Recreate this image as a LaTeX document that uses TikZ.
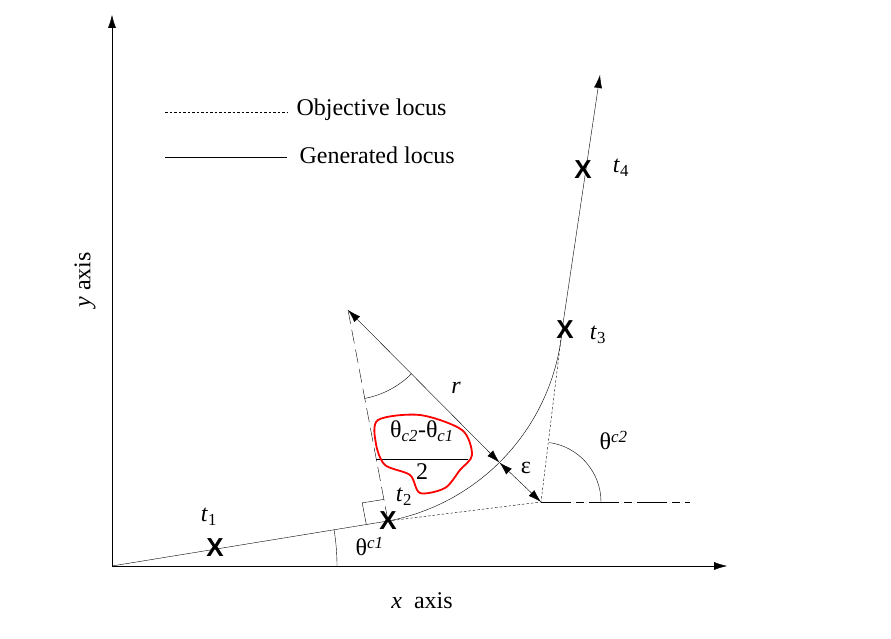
\documentclass[tikz,border=0pt]{standalone}
\usepackage{fontspec}
\setmainfont{Liberation Serif}
\newfontfamily\xfont{Liberation Sans}
\usetikzlibrary{arrows.meta,calc}
\begin{document}
\begin{tikzpicture}[x=1pt,y=1pt,
  tip/.style={-{Latex[length=13,width=8]}},
  dots/.style={dash pattern=on 2.5pt off 2pt},
  lbl/.style={font=\fontsize{24}{26}\selectfont},
  xm/.style={font=\xfont\bfseries\fontsize{26}{26}\selectfont, inner sep=0pt}]
\useasboundingbox (0,0) rectangle (891,639);
\coordinate (O) at (112,73);
\coordinate (xe) at (727,73);
\coordinate (ye) at (112,624);
\coordinate (t2) at (388,118);
\coordinate (P) at (541,137);
\coordinate (C) at (348,329);
\coordinate (t3) at ($(C)+(-5.3:215)$);
\coordinate (top) at (600,564);
\coordinate (E) at ($(C)+(-45.2:215)$);
% axes
\draw[tip] (O) -- (xe);
\draw[tip] (O) -- (ye);
% generated locus
\draw (O) -- (t2) arc[start angle=-79.3,end angle=-5.3,radius=215];
\draw[tip] (t3) -- (top);
% objective locus
\draw[dots] (t2) -- (P) -- (t3);
\draw[dash pattern=on 30pt off 5pt on 8pt off 5pt] (P) -- (690,137);
% radius lines
\draw[dash pattern=on 14pt off 6pt] (C) -- (t2);
\draw[{Latex[length=13,width=8]}-{Latex[length=13,width=8]}] (C) -- (E);
\draw[{Latex[length=13,width=8]}-{Latex[length=13,width=8]}] (E) -- (P);
% angle arcs
\draw ($(O)+(225,0)$) arc[start angle=0,end angle=9.3,radius=225];
\draw ($(C)+(-79.3:90)$) arc[start angle=-79.3,end angle=-45.2,radius=90];
\draw ($(P)+(60,0)$) arc[start angle=0,end angle=82,radius=60];
% right-angle square
\draw (366.3,114.5) -- (362.2,136.1) -- (383.9,139.6);
% markers
\node[xm] (m1) at (215,91) {X};
\node[xm] (m2) at (388,118) {X};
\node[xm] (m3) at (565,309) {X};
\node[xm] (m4) at (583,469) {X};
\node[lbl] (l1) at (209,122) {\textit{t}\textsubscript{1}};
\node[lbl] (l2) at (404,142) {\textit{t}\textsubscript{2}};
\node[lbl] (l3) at (598,304) {\textit{t}\textsubscript{3}};
\node[lbl] (l4) at (621,471) {\textit{t}\textsubscript{4}};
\node[lbl] (r) at (456,251) {\textit{r}};
\node[lbl] (eps) at (526,171) {ε};
\node[lbl,anchor=west] (th1) at (352,92) {θ\textit{\fontsize{17}{17}\selectfont \raisebox{7pt}{c1}}};
\node[lbl,anchor=west] (th2) at (596,199) {θ\textit{\fontsize{17}{17}\selectfont \raisebox{7pt}{c2}}};
\node[lbl,align=center,inner sep=0pt] (frac) at (422,189) {θ\textsubscript{\textit{c2}}-θ\textsubscript{\textit{c1}}\\[-4pt]\rule{92pt}{0.6pt}\\[-6pt]2};
\draw[red,line width=1.8pt] plot[smooth cycle] coordinates {(378,219) (420,224) (462,209) (472,184) (460,169) (445,151) (420,146) (410,164) (385,174) (376,195)};
% legend
\draw[dots] (165,527) -- (287,527);
\draw (165,482) -- (287,482);
\node[lbl,anchor=west] (leg1) at (293,529) {Objective locus};
\node[lbl,anchor=west] (leg2) at (296,484) {Generated locus};
\node[lbl,rotate=90] (ya) at (85,359) {\textit{y} axis};
\node[lbl] (xa) at (422,38) {\textit{x} \ axis};
\end{tikzpicture}
\end{document}
